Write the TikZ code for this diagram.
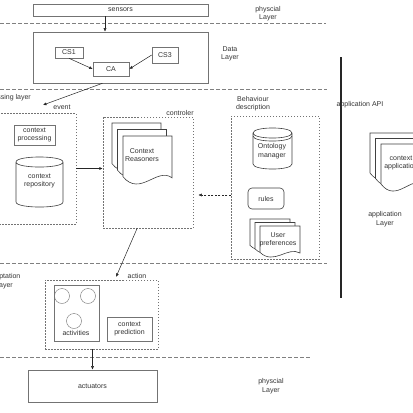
\documentclass[tikz,border=0pt]{standalone}
\usepackage{fontspec}
\setmainfont{Liberation Sans}
\usetikzlibrary{calc,arrows.meta}

\tikzset{
  box/.style={draw=black!55, line width=0.6pt, fill=white, inner sep=0pt, align=center},
  grp/.style={draw=black!55, dash pattern=on 1.5pt off 1.5pt, line width=0.5pt},
  layer/.style={draw=black!50, dash pattern=on 4pt off 2pt, line width=0.6pt},
  lbl/.style={text=black!80, align=center, inner sep=0pt},
  arr/.style={-{Latex[length=3.5pt,width=3pt]}, black!85, line width=0.5pt},
  icon/.style={draw=black!75, line width=0.6pt, fill=white},
}

% cylinder: top-left corner, width, height
\newcommand\drum[3]{%
  \begin{scope}[shift={#1}]
    \draw[icon] (0,5) -- (0,#3-5) .. controls (0,#3+1.7) and (#2,#3+1.7) .. (#2,#3-5)
      -- (#2,5) .. controls (#2,-1.7) and (0,-1.7) .. (0,5)
      .. controls (0,11.7) and (#2,11.7) .. (#2,5);
  \end{scope}}

% stack of three documents: top-left corner, width, height, x offset, y offset
\newcommand\docs[5]{%
  \begin{scope}[shift={#1}]
    \foreach \i in {0,1,2}{
      \begin{scope}[shift={(\i*#4,\i*#5)}]
        \draw[icon] (0,0) -- (#2,0) -- (#2,0.82*#3)
          .. controls (0.7*#2,0.6*#3) and (0.35*#2,1.2*#3) .. (0,0.8*#3) -- cycle;
      \end{scope}
    }
  \end{scope}}

\begin{document}
\begin{tikzpicture}[x=1pt,y=-1pt,font=\fontsize{7}{8.5}\selectfont,text=black!80]
\useasboundingbox (0,0) rectangle (413,413);

% layer borders
\draw[layer] (0,23) -- (326,23);
\draw[layer] (0,89) -- (327,89);
\draw[layer] (0,263) -- (327,263);
\draw[layer] (0,357) -- (310,357);
\draw[black!85, line width=1.2pt] (341,57) -- (341,298);

\node[lbl] (physTop) at (268,13.5) {physcial\\Layer};
\node[lbl] (dataL) at (230,54) {Data\\Layer};
\node[lbl, anchor=east] (procL) at (31,98) {processing layer};
\node[lbl] (adaptL) at (4,281) {adaptation\\Layer};
\node[lbl] (physBot) at (271,386) {physcial\\Layer};
\node[lbl] (apiL) at (360,105) {application API};
\node[lbl] (appL) at (385,219) {application\\Layer};

% physical and data layer
\node[box, minimum width=175pt, minimum height=12pt] (sensors) at (120.5,10) {sensors};
\node[box, minimum width=175pt, minimum height=51pt] (data) at (120.5,57.5) {};
\node[box, minimum width=28pt, minimum height=11pt] (cs1) at (69,52.5) {CS1};
\node[box, minimum width=26pt, minimum height=16pt] (cs3) at (165,55) {CS3};
\node[box, minimum width=36pt, minimum height=14pt] (ca) at (111,69) {CA};

% processing layer
\node[grp, minimum width=86pt, minimum height=111pt] (event) at (33,168.5) {};
\node[lbl] (evtL) at (62,107) {event};
\node[box, minimum width=41pt, minimum height=20pt] (ctxproc) at (34.5,135) {context\\processing};
\drum{(16,157)}{47}{50}
\node[lbl] (repo) at (39.5,181) {context\\repository};

\node[grp, minimum width=90pt, minimum height=111pt] (ctrl) at (148,172.5) {};
\node[lbl] (ctrlL) at (180,113) {controler};
\docs{(112,123)}{49}{51}{5.5}{6.5}
\node[lbl] (reason) at (142,155) {Context\\Reasoners};

\node[grp, minimum width=88pt, minimum height=143pt] (behav) at (275,187.5) {};
\node[lbl] (behavL) at (253,103.5) {Behaviour\\description};
\drum{(253,128)}{39}{41}
\draw[icon, fill=none] (253,136) .. controls (253,142.7) and (292,142.7) .. (292,136);
\node[lbl] (onto) at (272,151) {Ontology\\manager};
\node[box, draw=black!75, rounded corners=4pt, minimum width=36pt, minimum height=21pt] (rules) at (266,198.5) {rules};
\docs{(250,219)}{40}{33}{5}{3.5}
\node[lbl] (prefs) at (278,240) {User\\preferences};

% adaptation layer
\node[grp, minimum width=113pt, minimum height=69pt] (action) at (101.5,314.5) {};
\node[lbl] (actionL) at (137,276) {action};
\node[box, minimum width=45pt, minimum height=56pt] (activ) at (76.5,313) {};
\node[circle, draw=black!55, minimum size=15pt, inner sep=0pt] (c1) at (62,296) {};
\node[circle, draw=black!55, minimum size=15pt, inner sep=0pt] (c2) at (88,296) {};
\node[circle, draw=black!55, minimum size=15pt, inner sep=0pt] (c3) at (74,321) {};
\node[lbl] (activL) at (76,333) {activities};
\node[box, minimum width=45pt, minimum height=24pt] (predict) at (129.5,329) {context\\prediction};

% actuators
\node[box, minimum width=129pt, minimum height=32pt] (act) at (92.5,386) {actuators};

% application layer
\docs{(370,133)}{44}{50}{5.5}{5.5}
\node[lbl] (ctxapp) at (401,163) {context\\application};

% connectors
\coordinate (sin) at ($(sensors.south)+(-15.5,0)$);
\draw[arr] (sin) -- (sin |- data.north);
\draw[arr] (cs1.south) -- (ca.west);
\draw[arr] (cs3.west) -- (ca.east);
\coordinate (evtip) at (43,105);
\draw[arr] (data.235) -- (evtip);
\draw[arr] (event.east) -- (event.east -| ctrl.west);
\draw[arr, dash pattern=on 2pt off 1.5pt] ($(behav.west)+(0,7.5)$) -- ($(ctrl.east)+(5,22.5)$);
\draw[arr, shorten >=3pt] (ctrl.259) -- (action.69);
\draw[arr] (action.south -| act.north) -- (act.north);
\end{tikzpicture}
\end{document}
